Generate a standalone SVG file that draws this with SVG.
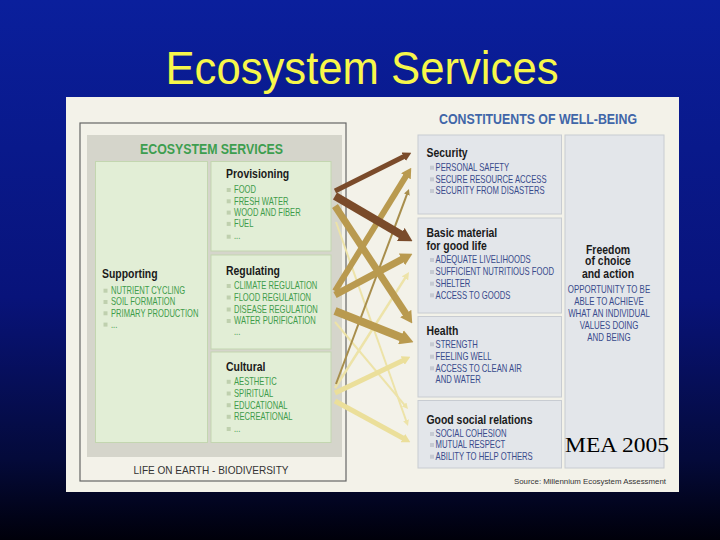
<svg xmlns="http://www.w3.org/2000/svg" width="720" height="540" viewBox="0 0 720 540">
<defs>
<linearGradient id="bgGrad" x1="0" y1="0" x2="0" y2="1">
<stop offset="0" stop-color="#0a1f9c"/>
<stop offset="0.55" stop-color="#08137a"/>
<stop offset="0.85" stop-color="#040a3a"/>
<stop offset="1" stop-color="#00000a"/>
</linearGradient>
<marker id="mBrown" viewBox="0 0 10 10" refX="3" refY="5" markerUnits="strokeWidth" markerWidth="1.7" markerHeight="1.9" preserveAspectRatio="none" orient="auto"><path d="M0,0 L10,5 L0,10 z" fill="#7a4b2a"/></marker>
<marker id="mTan" viewBox="0 0 10 10" refX="3" refY="5" markerUnits="strokeWidth" markerWidth="1.7" markerHeight="1.9" preserveAspectRatio="none" orient="auto"><path d="M0,0 L10,5 L0,10 z" fill="#b99a4f"/></marker>
<marker id="mTanThin" viewBox="0 0 10 10" refX="3" refY="5" markerUnits="strokeWidth" markerWidth="3" markerHeight="3" preserveAspectRatio="none" orient="auto"><path d="M0,0 L10,5 L0,10 z" fill="#a88e4c"/></marker>
<marker id="mPale" viewBox="0 0 10 10" refX="3" refY="5" markerUnits="strokeWidth" markerWidth="1.7" markerHeight="1.9" preserveAspectRatio="none" orient="auto"><path d="M0,0 L10,5 L0,10 z" fill="#ebdf9a"/></marker>
<marker id="mPaleThin" viewBox="0 0 10 10" refX="3" refY="5" markerUnits="strokeWidth" markerWidth="3" markerHeight="3" preserveAspectRatio="none" orient="auto"><path d="M0,0 L10,5 L0,10 z" fill="#ede3a8"/></marker>
<style>
.boxg{fill:#e2eed6;stroke:#c3d6b0;stroke-width:1}
.boxb{fill:#e3e6ea;stroke:#c8ccd2;stroke-width:1}
.h{font-family:"Liberation Sans",Arial,sans-serif;font-weight:bold;font-size:12px;fill:#1a1a1a}
.ig{font-family:"Liberation Sans",Arial,sans-serif;font-size:10px;fill:#3f9c4a}
.ib{font-family:"Liberation Sans",Arial,sans-serif;font-size:10px;fill:#394b8c}
.bg{fill:#bfd0ae}
.bb{fill:#c6cad2}
.arr{fill:none;stroke-linecap:butt}
</style>
</defs>
<rect x="0" y="0" width="720" height="540" fill="url(#bgGrad)"/>
<text x="362" y="84" text-anchor="middle" font-family="Liberation Sans, Arial, sans-serif" font-size="46" fill="#f7f74a" textLength="393" lengthAdjust="spacingAndGlyphs">Ecosystem Services</text>
<rect x="66" y="97" width="613" height="395" fill="#f3f2e9"/>

<g id="ecosystem-services">
<rect x="80" y="123" width="266" height="358" fill="#f3f2e9" stroke="#666" stroke-width="1.2"/>
<rect x="87" y="135" width="255" height="322" fill="#d5d5cb"/>
<text x="211.5" y="154" text-anchor="middle" font-family="Liberation Sans, Arial, sans-serif" font-weight="bold" font-size="14" fill="#3d9e4f" textLength="143" lengthAdjust="spacingAndGlyphs">ECOSYSTEM SERVICES</text>
<text x="211" y="474" text-anchor="middle" font-family="Liberation Sans, Arial, sans-serif" font-size="11" fill="#333" textLength="155" lengthAdjust="spacingAndGlyphs">LIFE ON EARTH - BIODIVERSITY</text>
</g>

<g id="supporting">
<rect class="boxg" x="95.5" y="161.5" width="112" height="281"/>
<g transform="translate(102,0) scale(0.87,1)"><text class="h" x="0" y="278.5">Supporting</text></g>
<rect class="bg" x="103.5" y="288.7" width="4" height="4"/>
<rect class="bg" x="103.5" y="300" width="4" height="4"/>
<rect class="bg" x="103.5" y="311.3" width="4" height="4"/>
<rect class="bg" x="103.5" y="322.6" width="4" height="4"/>
<g transform="translate(111,0) scale(0.76,1)">
<text class="ig" x="0" y="294.2">NUTRIENT CYCLING</text>
<text class="ig" x="0" y="305.5">SOIL FORMATION</text>
<text class="ig" x="0" y="316.8">PRIMARY PRODUCTION</text>
<text class="ig" x="0" y="328" fill="#9fbf90">...</text>
</g>
</g>

<g id="provisioning">
<rect class="boxg" x="211" y="161.5" width="120" height="89.5"/>
<g transform="translate(226,0) scale(0.87,1)"><text class="h" x="0" y="178.5">Provisioning</text></g>
<rect class="bg" x="226.7" y="188" width="4" height="4"/>
<rect class="bg" x="226.7" y="199.3" width="4" height="4"/>
<rect class="bg" x="226.7" y="210.6" width="4" height="4"/>
<rect class="bg" x="226.7" y="221.9" width="4" height="4"/>
<rect class="bg" x="226.7" y="234.7" width="4" height="4"/>
<g transform="translate(234,0) scale(0.76,1)">
<text class="ig" x="0" y="193.5">FOOD</text>
<text class="ig" x="0" y="204.8">FRESH WATER</text>
<text class="ig" x="0" y="216.1">WOOD AND FIBER</text>
<text class="ig" x="0" y="227.4">FUEL</text>
<text class="ig" x="0" y="239" fill="#9fbf90">...</text>
</g>
</g>

<g id="regulating">
<rect class="boxg" x="211" y="255" width="120" height="94"/>
<g transform="translate(226,0) scale(0.87,1)"><text class="h" x="0" y="275">Regulating</text></g>
<rect class="bg" x="226.7" y="284" width="4" height="4"/>
<rect class="bg" x="226.7" y="295.5" width="4" height="4"/>
<rect class="bg" x="226.7" y="307.5" width="4" height="4"/>
<rect class="bg" x="226.7" y="319" width="4" height="4"/>
<g transform="translate(234,0) scale(0.76,1)">
<text class="ig" x="0" y="289.5">CLIMATE REGULATION</text>
<text class="ig" x="0" y="301">FLOOD REGULATION</text>
<text class="ig" x="0" y="313">DISEASE REGULATION</text>
<text class="ig" x="0" y="324.5">WATER PURIFICATION</text>
<text class="ig" x="0" y="335" fill="#9fbf90">...</text>
</g>
</g>

<g id="cultural">
<rect class="boxg" x="211" y="352" width="120" height="90.5"/>
<g transform="translate(226,0) scale(0.87,1)"><text class="h" x="0" y="371">Cultural</text></g>
<rect class="bg" x="226.7" y="379.8" width="4" height="4"/>
<rect class="bg" x="226.7" y="391.5" width="4" height="4"/>
<rect class="bg" x="226.7" y="403.2" width="4" height="4"/>
<rect class="bg" x="226.7" y="414.8" width="4" height="4"/>
<rect class="bg" x="226.7" y="427" width="4" height="4"/>
<g transform="translate(234,0) scale(0.76,1)">
<text class="ig" x="0" y="385.3">AESTHETIC</text>
<text class="ig" x="0" y="397">SPIRITUAL</text>
<text class="ig" x="0" y="408.7">EDUCATIONAL</text>
<text class="ig" x="0" y="420.3">RECREATIONAL</text>
<text class="ig" x="0" y="432" fill="#9fbf90">...</text>
</g>
</g>

<g id="connectors">
<line class="arr" x1="336" y1="222" x2="406.6" y2="422" stroke="#ede3a8" stroke-width="2" marker-end="url(#mPaleThin)"/>
<line class="arr" x1="335" y1="322" x2="405.3" y2="405.8" stroke="#ede3a8" stroke-width="2" marker-end="url(#mPaleThin)"/>
<line class="arr" x1="335" y1="388" x2="406.2" y2="276.4" stroke="#ede3a8" stroke-width="2.5" marker-end="url(#mPaleThin)"/>
<line class="arr" x1="335" y1="393" x2="405" y2="359.4" stroke="#ebdf9a" stroke-width="5" marker-end="url(#mPale)"/>
<line class="arr" x1="335" y1="401" x2="405.1" y2="439.3" stroke="#ebdf9a" stroke-width="5" marker-end="url(#mPale)"/>
<line class="arr" x1="336" y1="384" x2="407.5" y2="192.9" stroke="#a88e4c" stroke-width="2" marker-end="url(#mTanThin)"/>
<line class="arr" x1="335" y1="291" x2="407.5" y2="173.7" stroke="#b99a4f" stroke-width="6" marker-end="url(#mTan)"/>
<line class="arr" x1="335" y1="295" x2="405.1" y2="257.7" stroke="#b99a4f" stroke-width="7" marker-end="url(#mTan)"/>
<line class="arr" x1="335" y1="206" x2="407.7" y2="316.5" stroke="#b99a4f" stroke-width="7" marker-end="url(#mTan)"/>
<line class="arr" x1="335" y1="311" x2="404.7" y2="338.7" stroke="#b99a4f" stroke-width="8" marker-end="url(#mTan)"/>
<line class="arr" x1="335" y1="191" x2="406" y2="155.5" stroke="#7a4b2a" stroke-width="5" marker-end="url(#mBrown)"/>
<line class="arr" x1="335" y1="196" x2="404.3" y2="236.5" stroke="#7a4b2a" stroke-width="8" marker-end="url(#mBrown)"/>
</g>

<g id="well-being-title">
<text x="538" y="123.5" text-anchor="middle" font-family="Liberation Sans, Arial, sans-serif" font-weight="bold" font-size="14" fill="#4066a8" textLength="198" lengthAdjust="spacingAndGlyphs">CONSTITUENTS OF WELL-BEING</text>
</g>

<g id="security">
<rect class="boxb" x="418" y="135" width="143.5" height="79"/>
<g transform="translate(426.5,0) scale(0.87,1)"><text class="h" x="0" y="157">Security</text></g>
<rect class="bb" x="430" y="165.7" width="4" height="4"/>
<rect class="bb" x="430" y="177.3" width="4" height="4"/>
<rect class="bb" x="430" y="189" width="4" height="4"/>
<g transform="translate(435.5,0) scale(0.77,1)">
<text class="ib" x="0" y="171.2">PERSONAL SAFETY</text>
<text class="ib" x="0" y="182.8">SECURE RESOURCE ACCESS</text>
<text class="ib" x="0" y="194.5">SECURITY FROM DISASTERS</text>
</g>
</g>

<g id="basic-material">
<rect class="boxb" x="418" y="218" width="143.5" height="95"/>
<g transform="translate(426.5,0) scale(0.87,1)"><text class="h" x="0" y="237.5">Basic material</text><text class="h" x="0" y="250.5">for good life</text></g>
<rect class="bb" x="430" y="258" width="4" height="4"/>
<rect class="bb" x="430" y="270" width="4" height="4"/>
<rect class="bb" x="430" y="281.7" width="4" height="4"/>
<rect class="bb" x="430" y="293.3" width="4" height="4"/>
<g transform="translate(435.5,0) scale(0.77,1)">
<text class="ib" x="0" y="263.5">ADEQUATE LIVELIHOODS</text>
<text class="ib" x="0" y="275.5">SUFFICIENT NUTRITIOUS FOOD</text>
<text class="ib" x="0" y="287.2">SHELTER</text>
<text class="ib" x="0" y="298.8">ACCESS TO GOODS</text>
</g>
</g>

<g id="health">
<rect class="boxb" x="418" y="316.5" width="143.5" height="80.5"/>
<g transform="translate(426.5,0) scale(0.87,1)"><text class="h" x="0" y="335.3">Health</text></g>
<rect class="bb" x="430" y="342.3" width="4" height="4"/>
<rect class="bb" x="430" y="354.7" width="4" height="4"/>
<rect class="bb" x="430" y="366.3" width="4" height="4"/>
<g transform="translate(435.5,0) scale(0.77,1)">
<text class="ib" x="0" y="347.8">STRENGTH</text>
<text class="ib" x="0" y="360.2">FEELING WELL</text>
<text class="ib" x="0" y="371.8">ACCESS TO CLEAN AIR</text>
<text class="ib" x="0" y="383.5">AND WATER</text>
</g>
</g>

<g id="social-relations">
<rect class="boxb" x="418" y="400.5" width="143.5" height="67.5"/>
<g transform="translate(426.5,0) scale(0.87,1)"><text class="h" x="0" y="423.6">Good social relations</text></g>
<rect class="bb" x="430" y="432" width="4" height="4"/>
<rect class="bb" x="430" y="443" width="4" height="4"/>
<rect class="bb" x="430" y="454.7" width="4" height="4"/>
<g transform="translate(435.5,0) scale(0.77,1)">
<text class="ib" x="0" y="437.5">SOCIAL COHESION</text>
<text class="ib" x="0" y="448.5">MUTUAL RESPECT</text>
<text class="ib" x="0" y="460.2">ABILITY TO HELP OTHERS</text>
</g>
</g>

<g id="freedom">
<rect class="boxb" x="565" y="135" width="99" height="333"/>
<g transform="translate(608,0) scale(0.87,1)">
<text class="h" x="0" y="253.6" text-anchor="middle">Freedom</text>
<text class="h" x="0" y="265.3" text-anchor="middle">of choice</text>
<text class="h" x="0" y="278" text-anchor="middle">and action</text>
</g>
<g transform="translate(609,0) scale(0.79,1)">
<text class="ib" x="0" y="293.5" text-anchor="middle">OPPORTUNITY TO BE</text>
<text class="ib" x="0" y="305.2" text-anchor="middle">ABLE TO ACHIEVE</text>
<text class="ib" x="0" y="317.2" text-anchor="middle">WHAT AN INDIVIDUAL</text>
<text class="ib" x="0" y="329" text-anchor="middle">VALUES DOING</text>
<text class="ib" x="0" y="340.8" text-anchor="middle">AND BEING</text>
</g>
</g>

<text x="666" y="483.5" text-anchor="end" font-family="Liberation Sans, Arial, sans-serif" font-size="8" fill="#333" textLength="152" lengthAdjust="spacingAndGlyphs">Source: Millennium Ecosystem Assessment</text>
<text x="565" y="451.7" font-family="Liberation Serif, Times New Roman, serif" font-size="21.5" fill="#000" textLength="104" lengthAdjust="spacingAndGlyphs">MEA 2005</text>
</svg>
